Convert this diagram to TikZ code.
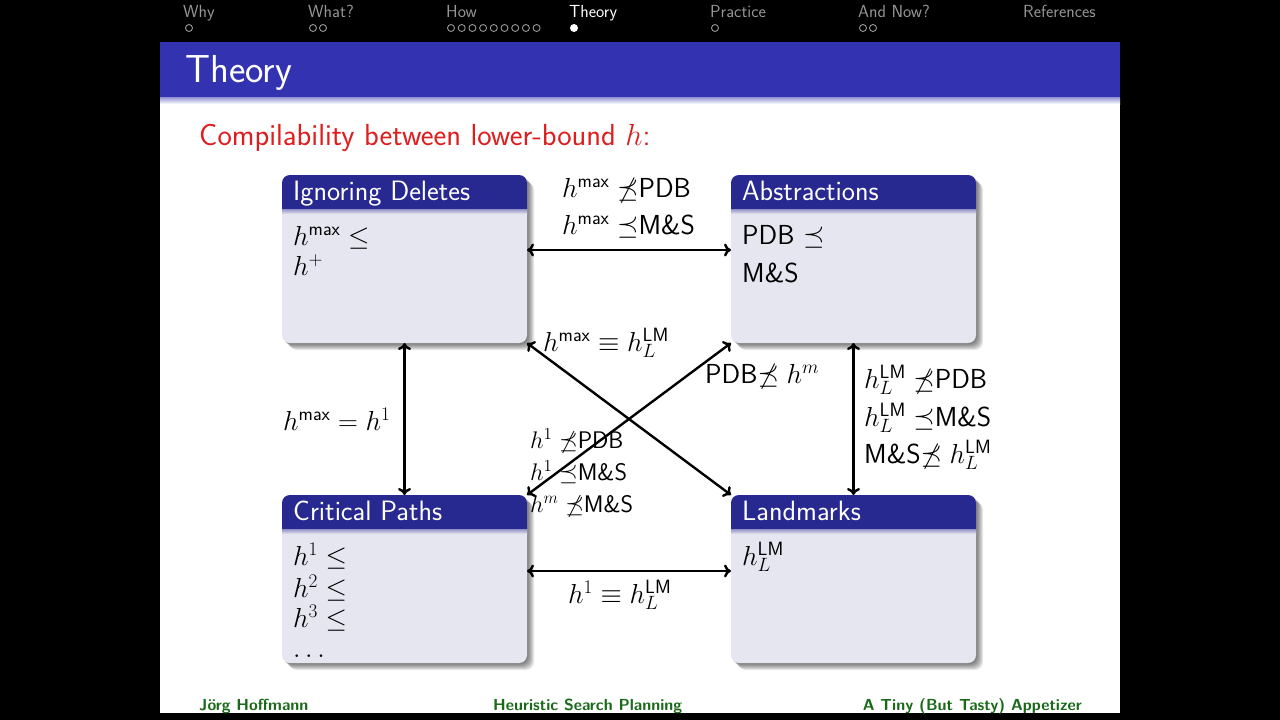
\RequirePackage{fix-cm}
\documentclass[tikz,border=0pt]{standalone}
\usepackage{fontspec}
\usetikzlibrary{arrows.meta,shadings}
\definecolor{struct}{RGB}{51,51,178}
\definecolor{blkhead}{RGB}{40,40,145}
\definecolor{blkbody}{RGB}{230,230,240}
\definecolor{alertred}{RGB}{222,30,30}
\definecolor{footgreen}{RGB}{25,105,25}
\definecolor{navgray}{RGB}{150,150,150}
\newcommand{\myBody}{\fontsize{27.5}{33}\selectfont\sffamily}
\newcommand{\myHead}{\fontsize{30.5}{36}\selectfont\sffamily}
\newcommand{\myBlk}{\fontsize{28}{33}\selectfont\sffamily}
\newcommand{\mySmall}{\fontsize{24}{29}\selectfont\sffamily}
\newcommand{\myNav}{\fontsize{17.5}{21}\selectfont\sffamily}
\newcommand{\myFoot}{\fontsize{16}{19}\selectfont\sffamily\bfseries}
\newcommand{\myTitle}{\fontsize{39}{46}\selectfont\sffamily}
\newcommand{\myBlock}[4]{%
  \node[blockbody] (#1) at (#2,#3) {};
  \foreach \i in {1,...,7} {
    \fill[black,opacity=0.09,rounded corners=8pt]
      ([xshift=\i pt,yshift=-\i pt]#1.south west) rectangle ([xshift=\i pt,yshift=-\i pt]#1.north east);
  }
  \fill[blkbody,rounded corners=8pt] (#1.south west) rectangle (#1.north east);
  \begin{scope}
    \clip ([yshift=-34pt]#1.north west) rectangle ([yshift=2pt]#1.north east);
    \fill[blkhead,rounded corners=8pt] (#1.south west) rectangle (#1.north east);
  \end{scope}
  \shade[top color=blkhead!45!blkbody,bottom color=blkbody]
    ([yshift=-34pt]#1.north west) rectangle ([yshift=-39pt]#1.north east);
  \node[anchor=base west,inner sep=0pt,text=white,font=\myBlk] (#1-title)
    at ([xshift=11pt,yshift=-25pt]#1.north west) {#4};
}
\begin{document}
\begin{tikzpicture}[x=1pt,y=-1pt,
  blockbody/.style={minimum width=245pt,minimum height=168pt,inner sep=0pt,outer sep=0pt},
  txt/.style={anchor=base west,inner sep=0pt,font=\myBody},
  smalltxt/.style={anchor=base west,inner sep=0pt,font=\mySmall},
  navtxt/.style={anchor=base west,inner sep=0pt,font=\myNav},
  foottxt/.style={inner sep=0pt,font=\myFoot,text=footgreen},
  arr/.style={{To[length=7pt,width=13pt]}-{To[length=7pt,width=13pt]},line width=2.4pt,black},
  navdot/.style={draw=navgray,line width=0.9pt}
]
\useasboundingbox (0,0) rectangle (1280,720);
\fill[black] (0,0) rectangle (1280,720);
\fill[white] (160,42) rectangle (1120,713);
% navigation
\foreach \x/\t/\c in {183/Why/navgray,308/What?/navgray,446/How/navgray,569/Theory/white,710/Practice/navgray,858/And Now?/navgray,1023/References/navgray}
  \node[navtxt,text=\c] (nav-\x) at (\x,17) {\t};
\foreach \x in {189,313,323,715,863,873}
  \draw[navdot] (\x,28) circle (3.5pt);
\foreach \i in {0,...,8}
  \draw[navdot] (451+10.7*\i,28) circle (3.5pt);
\fill[white] (574,28) circle (4pt);
% frame title
\fill[struct] (160,42) rectangle (1120,97);
\shade[top color=struct!55!white,bottom color=white] (160,97) rectangle (1120,104);
\node[anchor=base west,inner sep=0pt,text=white,font=\myTitle] (ftitle) at (185,82) {Theory};
% heading
\node[anchor=base west,inner sep=0pt,font=\myHead,text=alertred] (head) at (199,145) {Compilability between lower-bound $h$:};
% blocks
\myBlock{id}{404.5}{259}{Ignoring Deletes}
\myBlock{abs}{853.5}{259}{Abstractions}
\myBlock{cp}{404.5}{579}{Critical Paths}
\myBlock{lm}{853.5}{579}{Landmarks}
% block contents
\node[txt] (id1) at (293,245) {$h^{\mathsf{max}}\leq$};
\node[txt] (id2) at (293,275) {$h^{+}$};
\node[txt] (abs1) at (742,244) {PDB $\preceq$};
\node[txt] (abs2) at (742,282) {M\&S};
\node[txt] (cp1) at (293,565) {$h^{1}\leq$};
\node[txt] (cp2) at (293,597) {$h^{2}\leq$};
\node[txt] (cp3) at (293,627) {$h^{3}\leq$};
\node[txt] (cp4) at (293,657) {$\ldots$};
\node[txt] (lm1) at (742,565) {$h_L^{\mathsf{LM}}$};
% connectors
\draw[arr] ([yshift=9pt]id.east) -- ([yshift=9pt]abs.west);
\draw[arr] ([yshift=8pt]cp.east) -- ([yshift=8pt]lm.west);
\draw[arr] (id.south) -- (cp.north);
\draw[arr] (abs.south) -- (lm.north);
\draw[arr] (id.south east) -- (lm.north west);
\draw[arr] (cp.north east) -- (abs.south west);
% connector labels
\node[txt] (t1) at (562,197) {$h^{\mathsf{max}}\not\preceq$PDB};
\node[txt] (t2) at (562,234) {$h^{\mathsf{max}}\preceq$M\&S};
\node[txt] (b1) at (568,603) {$h^{1}\equiv h_L^{\mathsf{LM}}$};
\node[txt] (l1) at (283,430) {$h^{\mathsf{max}}=h^{1}$};
\node[txt] (r1) at (864,388) {$h_L^{\mathsf{LM}}\not\preceq$PDB};
\node[txt] (r2) at (864,426) {$h_L^{\mathsf{LM}}\preceq$M\&S};
\node[txt] (r3) at (864,463) {M\&S$\not\preceq h_L^{\mathsf{LM}}$};
\node[txt] (d1) at (543,351) {$h^{\mathsf{max}}\equiv h_L^{\mathsf{LM}}$};
\node[txt] (d2) at (705,383) {PDB$\not\preceq h^{m}$};
\node[smalltxt] (s1) at (530,448) {$h^{1}\not\preceq$PDB};
\node[smalltxt] (s2) at (530,480) {$h^{1}\preceq$M\&S};
\node[smalltxt] (s3) at (530,512) {$h^{m}\not\preceq$M\&S};
% footer
\node[foottxt,anchor=base west] (f1) at (199,710) {Jörg Hoffmann};
\node[foottxt,anchor=base west] (f2) at (493,710) {Heuristic Search Planning};
\node[foottxt,anchor=base east] (f3) at (1082,710) {A Tiny (But Tasty) Appetizer};
\end{tikzpicture}
\end{document}
